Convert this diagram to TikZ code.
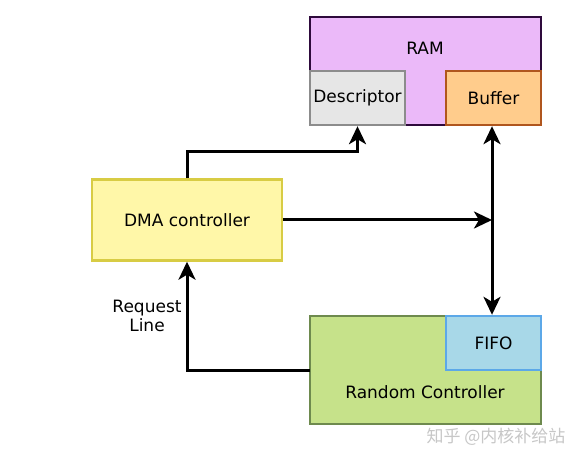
\documentclass[tikz,border=0pt]{standalone}
\usepackage{fontspec}
\setmainfont{DejaVu Sans}
\newfontfamily\cjk{Noto Sans CJK SC}
\usetikzlibrary{arrows.meta}
\definecolor{ramfill}{HTML}{EBB9F9}
\definecolor{ramline}{HTML}{2E0A3C}
\definecolor{descfill}{HTML}{E6E6E6}
\definecolor{descline}{HTML}{8C8C8C}
\definecolor{buffill}{HTML}{FFCC8C}
\definecolor{bufline}{HTML}{B0561E}
\definecolor{dmafill}{HTML}{FFF7A8}
\definecolor{dmaline}{HTML}{D8CC44}
\definecolor{rcfill}{HTML}{C6E28A}
\definecolor{rcline}{HTML}{6E8A4E}
\definecolor{fifofill}{HTML}{A8D8E8}
\definecolor{fifoline}{HTML}{5CA8E8}
\begin{document}
\begin{tikzpicture}[x=1pt,y=-1pt,
  box/.style={draw, line width=2.4pt, inner sep=0pt, font=\fontsize{17}{20}\selectfont},
  tip/.tip={Stealth[length=18pt,width=17pt,inset=5pt]},
  conn/.style={line width=3pt, -tip},
  dconn/.style={line width=3pt, tip-tip},
  lbl/.style={font=\fontsize{17}{20}\selectfont, align=center}]
\useasboundingbox (0,0) rectangle (583,462);
\fill[white] (0,0) rectangle (583,462);
% RAM
\draw[box, draw=ramline, fill=ramfill] (310,17) rectangle (541,125);
\node[lbl] (ram) at (425,48) {RAM};
\node[box, draw=descline, fill=descfill, minimum width=95pt, minimum height=54pt] (desc) at (357.5,98) {Descriptor};
\node[box, draw=bufline, fill=buffill, minimum width=95pt, minimum height=54pt] (buf) at (493.5,98) {Buffer};
% DMA
\node[box, draw=dmaline, fill=dmafill, minimum width=190pt, minimum height=81pt] (dma) at (187,220) {DMA controller};
% Random controller
\draw[box, draw=rcline, fill=rcfill] (310,316) rectangle (541,424);
\node[lbl] (rc) at (425,392) {Random Controller};
\node[box, draw=fifoline, fill=fifofill, minimum width=95pt, minimum height=54pt] (fifo) at (493.5,343) {FIFO};
\coordinate (rcleft) at (310,370);
\coordinate (junc) at (492,220);
% connectors
\draw[conn] (dma.north) -- ++(0,-27) -| (desc.south);
\draw[conn] (dma.east) -- (dma.east -| junc);
\draw[dconn] (buf.south -| junc) -- (fifo.north -| junc);
\draw[conn] (rcleft) -| (dma.south);
\node[lbl] (req) at (147,316) {Request\\[-1pt]Line};
\node[font=\cjk\fontsize{17}{19}\selectfont, text=black!22] (wm) at (496,437) {知乎 @内核补给站};
\end{tikzpicture}
\end{document}
